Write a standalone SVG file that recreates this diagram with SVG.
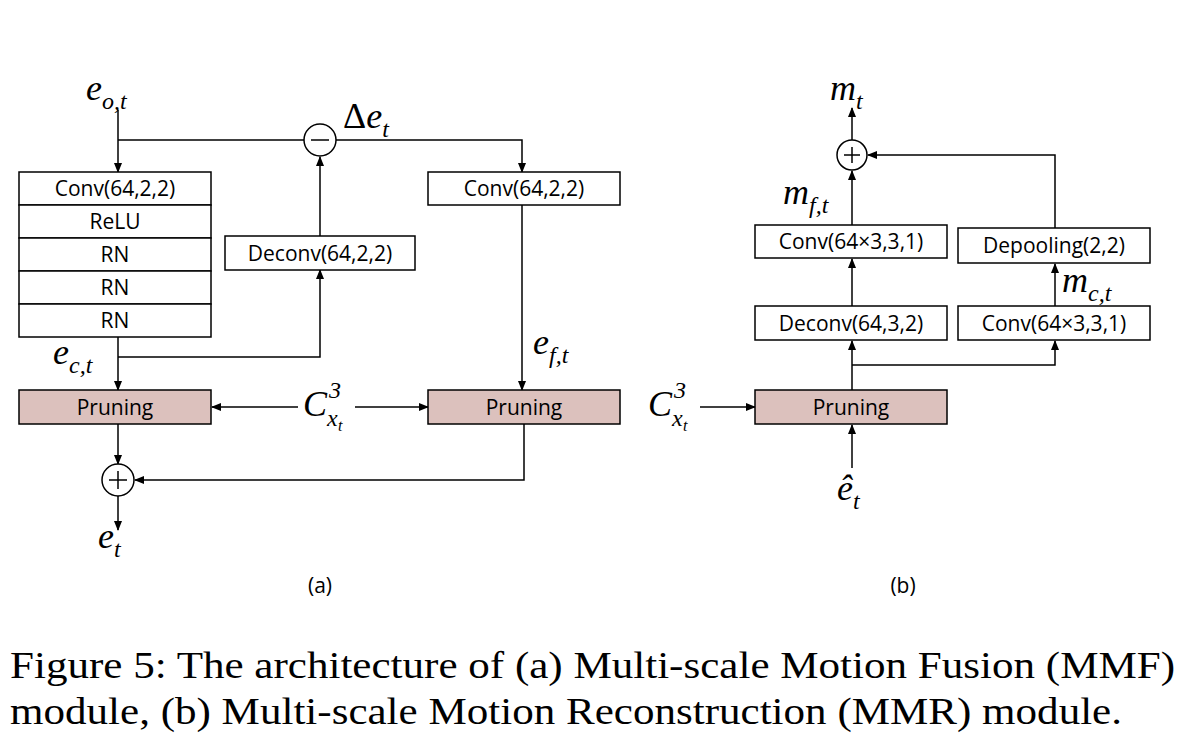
<svg xmlns="http://www.w3.org/2000/svg" width="1192" height="744" viewBox="0 0 1192 744">
<defs>
<marker id="ah" markerWidth="10" markerHeight="10" refX="9" refY="5" orient="auto" markerUnits="userSpaceOnUse"><path d="M0,1 L10,5 L0,9 z" fill="#000"/></marker>
<style>
.b{fill:#fff;stroke:#000;stroke-width:1.5}
.p{fill:#dcc1bd;stroke:#000;stroke-width:1.5}
.t{font-family:"Open Sans","Liberation Sans",sans-serif;font-size:21px;text-anchor:middle}
.m{font-family:"Liberation Serif",serif;font-style:italic;font-size:36px}
.s{font-size:24px}
.ss{font-size:16px}
.l{fill:none;stroke:#000;stroke-width:1.5}
.a{fill:none;stroke:#000;stroke-width:1.5;marker-end:url(#ah)}
.c{font-family:"Liberation Serif",serif;font-size:37px}
</style>
</defs>
<rect width="1192" height="744" fill="#fff"/>
<g id="connectors">
<path class="a" d="M118,110 V172"/>
<path class="l" d="M118,140 H304"/>
<path class="a" d="M336,140 H522 V172"/>
<path class="a" d="M320,236 V157"/>
<path class="a" d="M118,337 V390"/>
<path class="a" d="M118,357 H320 V270"/>
<path class="a" d="M522,205 V390"/>
<path class="a" d="M298,407 H212"/>
<path class="a" d="M355,407 H428"/>
<path class="a" d="M118,424 V464"/>
<path class="a" d="M524,424 V480 H135"/>
<path class="a" d="M118,496 V530"/>
<path class="a" d="M852,140 V108"/>
<path class="a" d="M852,225 V171"/>
<path class="a" d="M852,306 V259"/>
<path class="a" d="M1055,228 V155 H868"/>
<path class="a" d="M1055,306 V264"/>
<path class="a" d="M852,390 V341"/>
<path class="a" d="M852,365 H1055 V341"/>
<path class="a" d="M700,407 H755"/>
<path class="a" d="M852,468 V425"/>
</g>
<g id="stack">
<rect class="b" x="19" y="172" width="192" height="33"/><text class="t" x="115" y="196">Conv(64,2,2)</text>
<rect class="b" x="19" y="205" width="192" height="33"/><text class="t" x="115" y="229">ReLU</text>
<rect class="b" x="19" y="238" width="192" height="33"/><text class="t" x="115" y="262">RN</text>
<rect class="b" x="19" y="271" width="192" height="33"/><text class="t" x="115" y="295">RN</text>
<rect class="b" x="19" y="304" width="192" height="33"/><text class="t" x="115" y="328">RN</text>
</g>
<g id="deconv_a"><rect class="b" x="225" y="236" width="190" height="34"/><text class="t" x="320" y="261">Deconv(64,2,2)</text></g>
<g id="conv_a"><rect class="b" x="428" y="172" width="192" height="33"/><text class="t" x="524" y="196">Conv(64,2,2)</text></g>
<g id="prune_a1"><rect class="p" x="19" y="390" width="192" height="34"/><text class="t" x="115" y="415">Pruning</text></g>
<g id="prune_a2"><rect class="p" x="428" y="390" width="192" height="34"/><text class="t" x="524" y="415">Pruning</text></g>
<g id="minus"><circle class="b" cx="320" cy="140" r="16"/><path class="l" d="M311,140 H329"/></g>
<g id="plus_a"><circle class="b" cx="118" cy="480" r="16"/><path class="l" d="M109,480 H127 M118,471 V489"/></g>
<g id="plus_b"><circle class="b" cx="852" cy="155" r="15"/><path class="l" d="M844,155 H860 M852,147 V163"/></g>
<g id="convf"><rect class="b" x="755" y="225" width="192" height="33"/><text class="t" x="851" y="249">Conv(64×3,3,1)</text></g>
<g id="deconv_b"><rect class="b" x="755" y="306" width="192" height="34"/><text class="t" x="851" y="331">Deconv(64,3,2)</text></g>
<g id="depool"><rect class="b" x="958" y="228" width="192" height="35"/><text class="t" x="1054" y="253">Depooling(2,2)</text></g>
<g id="convc"><rect class="b" x="958" y="306" width="192" height="34"/><text class="t" x="1054" y="331">Conv(64×3,3,1)</text></g>
<g id="prune_b"><rect class="p" x="755" y="390" width="192" height="34"/><text class="t" x="851" y="415">Pruning</text></g>
<g id="labels">
<text class="m" x="86" y="100">e<tspan class="s" dy="9">o,t</tspan></text>
<text class="m" x="343" y="128"><tspan font-style="normal">Δ</tspan>e<tspan class="s" dy="9">t</tspan></text>
<text class="m" x="53" y="364">e<tspan class="s" dy="9">c,t</tspan></text>
<text class="m" x="533" y="354">e<tspan class="s" dy="9">f,t</tspan></text>
<text class="m" x="303" y="416">C</text><text class="m s" x="329" y="398">3</text><text class="m s" x="327" y="426">x</text><text class="m ss" x="338" y="431">t</text>
<text class="m" x="98" y="548">e<tspan class="s" dy="9">t</tspan></text>
<text class="m" x="830" y="100">m<tspan class="s" dy="9">t</tspan></text>
<text class="m" x="783" y="204">m<tspan class="s" dy="9">f,t</tspan></text>
<text class="m" x="1062" y="292">m<tspan class="s" dy="9">c,t</tspan></text>
<text class="m" x="648" y="416">C</text><text class="m s" x="674" y="398">3</text><text class="m s" x="672" y="426">x</text><text class="m ss" x="683" y="431">t</text>
<text class="m" x="837" y="500">ê<tspan class="s" dy="9">t</tspan></text>
<text class="t" x="320" y="593" font-size="24">(a)</text>
<text class="t" x="903" y="593" font-size="24">(b)</text>
<text class="c" x="10" y="678" textLength="1165" lengthAdjust="spacingAndGlyphs">Figure 5: The architecture of (a) Multi-scale Motion Fusion (MMF)</text>
<text class="c" x="10" y="724" textLength="1112" lengthAdjust="spacingAndGlyphs">module, (b) Multi-scale Motion Reconstruction (MMR) module.</text>
</g>
</svg>
